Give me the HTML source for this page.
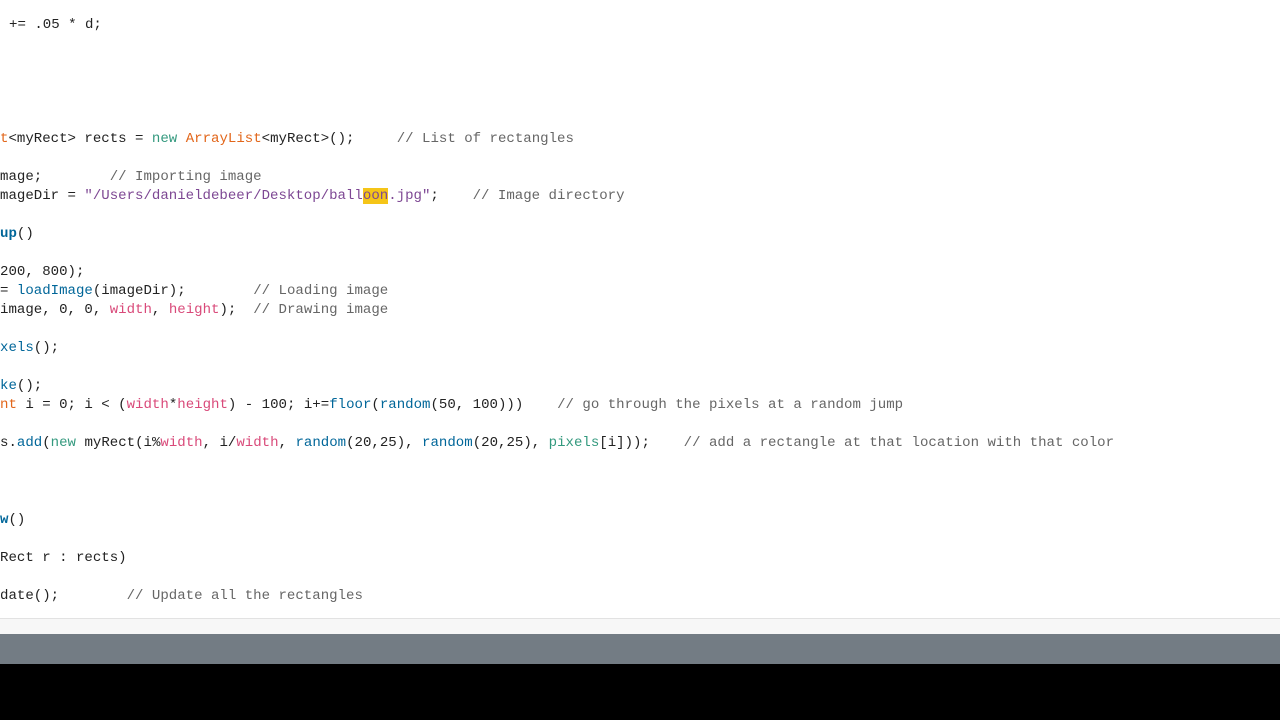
<!DOCTYPE html>
<html><head><style>
body{margin:0;width:1280px;height:720px;background:#fff;position:relative;overflow:hidden;font-family:"Liberation Mono",monospace;font-size:14.07px;color:#222}
.l{position:absolute;white-space:pre;line-height:19px;height:19px}
.k{color:#33997e}.t{color:#e2661a}.s{color:#7d4793}.c{color:#666}.f{color:#006699}.v{color:#d94a7a}.b{color:#006699;font-weight:bold}
</style></head><body>
<div class="l" style="left:9px;top:16px">+= .05 * d;</div>
<div class="l" style="left:0;top:130px"><span class="t">t</span>&lt;myRect&gt; rects = <span class="k">new</span> <span class="t">ArrayList</span>&lt;myRect&gt;();     <span class="c">// List of rectangles</span></div>
<div class="l" style="left:0;top:168px">mage;        <span class="c">// Importing image</span></div>
<div class="l" style="left:0;top:187px">mageDir = <span class="s">"/Users/danieldebeer/Desktop/ball<span style="background:#f5c518">oon</span>.jpg"</span>;    <span class="c">// Image directory</span></div>
<div class="l" style="left:0;top:225px"><span class="b">up</span>()</div>
<div class="l" style="left:0;top:263px">200, 800);</div>
<div class="l" style="left:0;top:282px">= <span class="f">loadImage</span>(imageDir);        <span class="c">// Loading image</span></div>
<div class="l" style="left:0;top:301px">image, 0, 0, <span class="v">width</span>, <span class="v">height</span>);  <span class="c">// Drawing image</span></div>
<div class="l" style="left:0;top:339px"><span class="f">xels</span>();</div>
<div class="l" style="left:0;top:377px"><span class="f">ke</span>();</div>
<div class="l" style="left:0;top:396px"><span class="t">nt</span> i = 0; i &lt; (<span class="v">width</span>*<span class="v">height</span>) - 100; i+=<span class="f">floor</span>(<span class="f">random</span>(50, 100)))    <span class="c">// go through the pixels at a random jump</span></div>
<div class="l" style="left:0;top:434px">s.<span class="f">add</span>(<span class="k">new</span> myRect(i%<span class="v">width</span>, i/<span class="v">width</span>, <span class="f">random</span>(20,25), <span class="f">random</span>(20,25), <span class="k">pixels</span>[i]));    <span class="c">// add a rectangle at that location with that color</span></div>
<div class="l" style="left:0;top:511px"><span class="b">w</span>()</div>
<div class="l" style="left:0;top:549px">Rect r : rects)</div>
<div class="l" style="left:0;top:587px">date();        <span class="c">// Update all the rectangles</span></div>
<div style="position:absolute;left:0;top:618px;width:1280px;height:1px;background:#e2e2e2"></div>
<div style="position:absolute;left:0;top:619px;width:1280px;height:15px;background:#f7f7f7"></div>
<div style="position:absolute;left:0;top:634px;width:1280px;height:30px;background:#737c84"></div>
<div style="position:absolute;left:0;top:664px;width:1280px;height:56px;background:#000"></div>
</body></html>
